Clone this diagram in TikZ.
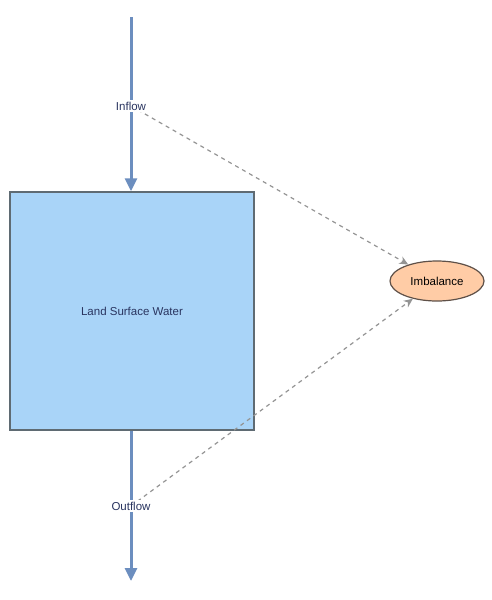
\documentclass[tikz,border=0pt]{standalone}
\usepackage{fontspec}
\setmainfont{Liberation Sans}
\usetikzlibrary{shapes.geometric,arrows.meta}
\definecolor{flowblue}{HTML}{6C8EBF}
\definecolor{boxfill}{HTML}{A9D4F8}
\definecolor{boxline}{HTML}{5F6B73}
\definecolor{imbfill}{HTML}{FFCCA6}
\definecolor{imbline}{HTML}{5E5048}
\definecolor{txt}{HTML}{2A3560}
\definecolor{dashgray}{HTML}{949494}
\tikzset{
  flow/.style={draw=flowblue, line width=3pt, -{Triangle[length=13pt,width=12pt]}},
  dashlink/.style={draw=dashgray, line width=1.2pt, dash pattern=on 4pt off 4pt, -{Stealth[length=9pt,width=8pt]}},
  lbl/.style={fill=white, inner sep=1.5pt, text=txt, font=\fontsize{11.5}{13}\selectfont},
  tank/.style={draw=boxline, line width=1.5pt, fill=boxfill, minimum width=244pt, minimum height=238pt, text=txt, font=\fontsize{11.5}{13}\selectfont},
  imbnode/.style={ellipse, draw=imbline, line width=1.2pt, fill=imbfill, minimum width=94pt, minimum height=40pt, inner sep=0pt, font=\fontsize{11.5}{13}\selectfont}
}
\begin{document}
\begin{tikzpicture}[x=1pt,y=-1pt]
\useasboundingbox (0,0) rectangle (492,600);
\node[tank] (box) at (132,311) {Land Surface Water};
\node[imbnode] (imb) at (437,281) {Imbalance};
\coordinate (src) at (131,17);
\coordinate (sink) at (131,581);
\coordinate (inc) at (131,106);
\coordinate (outc) at (131,506);
\draw[flow] (src) -- (box.north -| src);
\draw[flow] (box.south -| sink) -- (sink);
\draw[dashlink] (inc) -- (imb);
\draw[dashlink] (outc) -- (imb);
\node[lbl] (inflow) at (inc) {Inflow};
\node[lbl] (outflow) at (outc) {Outflow};
\end{tikzpicture}
\end{document}
